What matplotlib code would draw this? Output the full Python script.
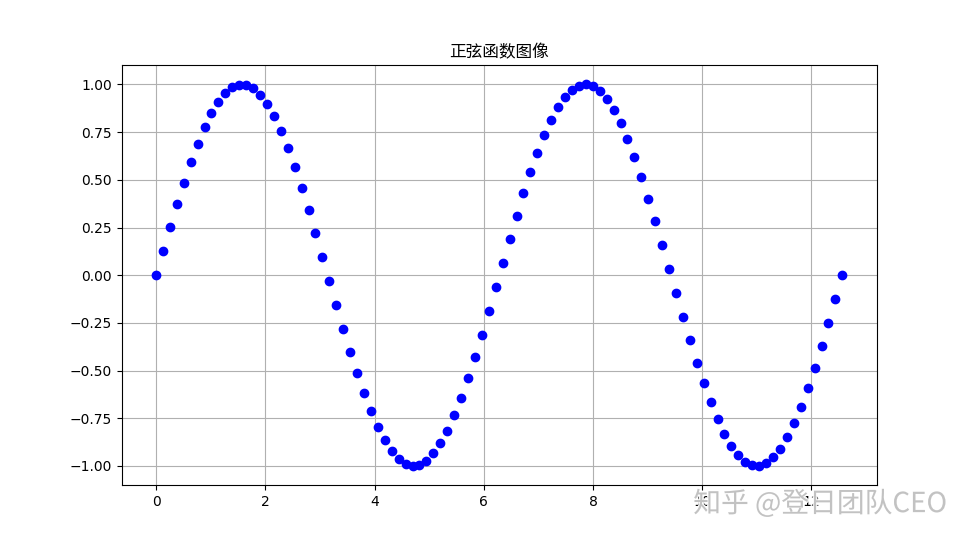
import matplotlib
matplotlib.use("Agg")
import matplotlib.pyplot as plt
import matplotlib.patheffects as pe

# sample points (x in radians, y value)
xVals = [0.000, 0.127, 0.254, 0.381, 0.508, 0.635, 0.762, 0.889, 1.015, 1.142,
         1.269, 1.396, 1.523, 1.650, 1.777, 1.904, 2.031, 2.158, 2.285, 2.412,
         2.539, 2.666, 2.793, 2.919, 3.046, 3.173, 3.300, 3.427, 3.554, 3.681,
         3.808, 3.935, 4.062, 4.189, 4.316, 4.443, 4.570, 4.697, 4.823, 4.950,
         5.077, 5.204, 5.331, 5.458, 5.585, 5.712, 5.839, 5.966, 6.093, 6.220,
         6.347, 6.474, 6.601, 6.727, 6.854, 6.981, 7.108, 7.235, 7.362, 7.489,
         7.616, 7.743, 7.870, 7.997, 8.124, 8.251, 8.378, 8.505, 8.631, 8.758,
         8.885, 9.012, 9.139, 9.266, 9.393, 9.520, 9.647, 9.774, 9.901, 10.028,
         10.155, 10.282, 10.409, 10.535, 10.662, 10.789, 10.916, 11.043, 11.170, 11.297,
         11.424, 11.551, 11.678, 11.805, 11.932, 12.059, 12.186, 12.313, 12.439, 12.566]

yVals = [0.000, 0.127, 0.251, 0.372, 0.486, 0.593, 0.690, 0.776, 0.850, 0.910,
         0.955, 0.985, 0.999, 0.997, 0.979, 0.945, 0.896, 0.833, 0.756, 0.667,
         0.567, 0.458, 0.342, 0.220, 0.095, -0.032, -0.158, -0.282, -0.401, -0.514,
         -0.618, -0.713, -0.796, -0.866, -0.922, -0.964, -0.990, -1.000, -0.994, -0.972,
         -0.934, -0.882, -0.815, -0.735, -0.643, -0.541, -0.430, -0.312, -0.189, -0.063,
         0.063, 0.189, 0.312, 0.430, 0.541, 0.643, 0.735, 0.815, 0.882, 0.934,
         0.972, 0.994, 1.000, 0.990, 0.964, 0.922, 0.866, 0.796, 0.713, 0.618,
         0.514, 0.401, 0.282, 0.158, 0.032, -0.095, -0.220, -0.342, -0.458, -0.567,
         -0.667, -0.756, -0.833, -0.896, -0.945, -0.979, -0.997, -0.999, -0.985, -0.955,
         -0.910, -0.850, -0.776, -0.690, -0.593, -0.486, -0.372, -0.251, -0.127, 0.000]

titleText = "正弦函数图像"
watermark = "知乎 @登日团队CEO"

plt.rcParams['font.family'] = ['DejaVu Sans', 'Noto Sans CJK SC']

fig, ax = plt.subplots(figsize=(9.74, 5.45), dpi=100)
ax.plot(xVals, yVals, 'bo')
ax.set_title(titleText, family=['Noto Sans CJK SC', 'DejaVu Sans'])
ax.grid(True)

# site watermark in the lower right corner
fig.text(0.972, 0.075, watermark, ha='right', va='center', fontsize=20,
         color='#bdbdbd', alpha=0.9, family=['Noto Sans CJK SC', 'DejaVu Sans'],
         path_effects=[pe.withStroke(linewidth=2, foreground='white')])

fig.savefig("out.png", dpi=100)
